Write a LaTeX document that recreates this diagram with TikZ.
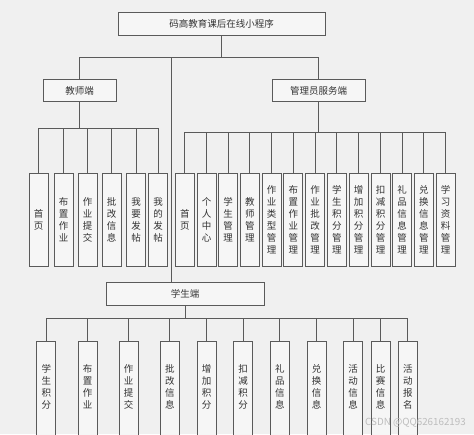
\documentclass[tikz,border=0pt]{standalone}
\usepackage{fontspec}
\setmainfont{Noto Sans CJK SC}
\definecolor{bgc}{HTML}{F0F0F0}
\definecolor{boxc}{HTML}{F6F6F6}
\definecolor{linec}{HTML}{5A5A5A}
\definecolor{txtc}{HTML}{333333}
\definecolor{wmc}{HTML}{BDBDBD}
\begin{document}
\begin{tikzpicture}[x=1pt,y=-1pt,
  box/.style={draw=linec,fill=boxc,line width=0.9pt,rectangle,inner sep=0pt,text=txtc,font=\fontsize{9.5}{12}\selectfont},
  headbox/.style={box,minimum height=22.5pt},
  leafbox/.style={box,minimum width=19pt,minimum height=93pt,align=center},
  stubox/.style={box,minimum width=19pt,minimum height=110pt},
  leaftext/.style={text=txtc,align=center,inner sep=0pt,font=\fontsize{9.5}{12}\selectfont},
  conn/.style={draw=linec,line width=0.9pt}]
\useasboundingbox (0,0) rectangle (474,434);
\fill[bgc] (0,0) rectangle (474,434);
\begin{scope}
\clip (0,0) rectangle (474,434);
% headers
\node[headbox,minimum width=207pt] (top) at (221.5,24) {码高教育课后在线小程序};
\node[headbox,minimum width=73pt] (teacher) at (79.5,90.5) {教师端};
\node[headbox,minimum width=93pt] (admin) at (318.5,90.5) {管理员服务端};
\node[headbox,minimum width=158pt] (student) at (185,294) {学生端};
% teacher leaves
\node[leafbox] (t1) at (38.5,219.5) {首\\页};
\node[leafbox] (t2) at (63.5,219.5) {布\\置\\作\\业};
\node[leafbox] (t3) at (87.5,219.5) {作\\业\\提\\交};
\node[leafbox] (t4) at (111.5,219.5) {批\\改\\信\\息};
\node[leafbox] (t5) at (136,219.5) {我\\要\\发\\帖};
\node[leafbox] (t6) at (158,219.5) {我\\的\\发\\帖};
% admin leaves
\node[leafbox] (a1) at (184.8,219.5) {首\\页};
\node[leafbox] (a2) at (206.7,219.5) {个\\人\\中\\心};
\node[leafbox] (a3) at (228.2,219.5) {学\\生\\管\\理};
\node[leafbox] (a4) at (249.8,219.5) {教\\师\\管\\理};
\node[leafbox] (a5) at (271.7,219.5) {作\\业\\类\\型\\管\\理};
\node[leafbox] (a6) at (293.3,219.5) {布\\置\\作\\业\\管\\理};
\node[leafbox] (a7) at (315,219.5) {作\\业\\批\\改\\管\\理};
\node[leafbox] (a8) at (336.8,219.5) {学\\生\\积\\分\\管\\理};
\node[leafbox] (a9) at (358.7,219.5) {增\\加\\积\\分\\管\\理};
\node[leafbox] (a10) at (380.5,219.5) {扣\\减\\积\\分\\管\\理};
\node[leafbox] (a11) at (402.2,219.5) {礼\\品\\信\\息\\管\\理};
\node[leafbox] (a12) at (423.8,219.5) {兑\\换\\信\\息\\管\\理};
\node[leafbox] (a13) at (445.5,219.5) {学\\习\\资\\料\\管\\理};
% student leaves (run past the lower edge)
\foreach \n/\x/\t in {1/46.3/{学\\生\\积\\分},2/87.7/{布\\置\\作\\业},3/128.7/{作\\业\\提\\交},4/169.8/{批\\改\\信\\息},5/206.5/{增\\加\\积\\分},6/243.2/{扣\\减\\积\\分},7/279.8/{礼\\品\\信\\息},8/316.5/{兑\\换\\信\\息},9/353.2/{活\\动\\信\\息},10/380.5/{比\\赛\\信\\息},11/407.8/{活\\动\\报\\名}}{
  \node[stubox] (s\n) at (\x,396) {};
  \node[leaftext] (s\n t) at (\x,387) {\t};
}
% junctions
\coordinate (j0) at (221.5,57);
\coordinate (sj) at (171,283);
\coordinate (tj) at (79.5,128);
\coordinate (aj) at (318.5,132);
\coordinate (uj) at (185,318);
\draw[conn] (top) -- (j0);
\draw[conn] (j0) -| (teacher);
\draw[conn] (j0) -| (admin);
\draw[conn] (j0) -| (sj);
\draw[conn] (teacher) -- (tj);
\foreach \i in {1,...,6}{\draw[conn] (tj) -| (t\i);}
\draw[conn] (admin) -- (aj);
\foreach \i in {1,...,13}{\draw[conn] (aj) -| (a\i);}
\draw[conn] (student) -- (uj);
\foreach \i in {1,...,11}{\draw[conn] (uj) -| (s\i);}
\node[text=wmc,font=\fontsize{9.8}{11}\selectfont,inner sep=0pt] (wm) at (415.5,423) {CSDN @QQ626162193};
\end{scope}
\end{tikzpicture}
\end{document}
